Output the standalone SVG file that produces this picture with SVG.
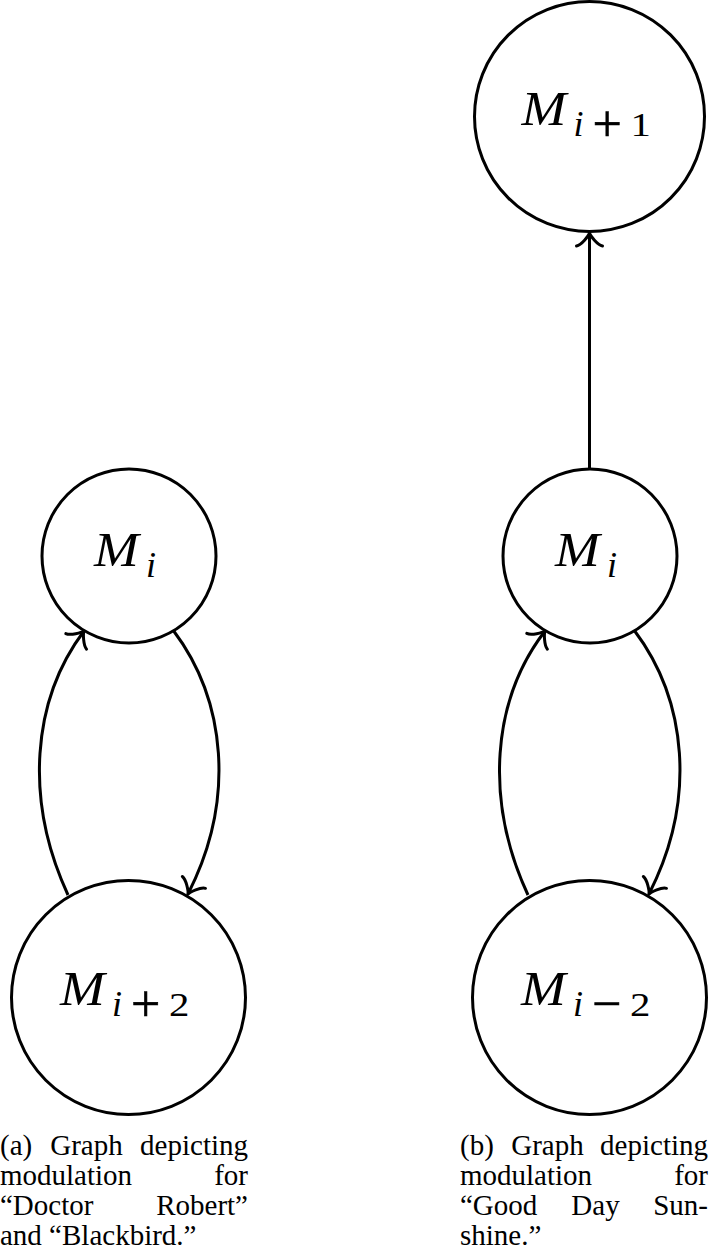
<svg xmlns="http://www.w3.org/2000/svg" width="709" height="1256" viewBox="0 0 709 1256">
<defs>
<style>
.node{fill:#fff;stroke:#000;stroke-width:3}
.edge{fill:none;stroke:#000;stroke-width:3}
.m{font-family:"Liberation Serif",serif;font-style:italic;font-size:48px;fill:#000}
.si{font-family:"Liberation Serif",serif;font-style:italic;font-size:36px;fill:#000}
.op{font-family:"Liberation Serif",serif;font-size:52px;fill:#000;stroke:#000;stroke-width:0.6}
.d{font-family:"Liberation Serif",serif;font-size:34px;fill:#000}
.cap{font-family:"Liberation Serif",serif;font-size:29px;fill:#000}
</style>
<marker id="to" markerUnits="userSpaceOnUse" viewBox="-16 -16 20 32" refX="0" refY="0" markerWidth="20" markerHeight="32" orient="auto" overflow="visible">
<path d="M -13,13 C -12,8 -2.8,0.9 0,0 C -2.8,-0.9 -12,-8 -13,-13" fill="none" stroke="#000" stroke-width="3" stroke-linecap="round"/>
</marker>
</defs>

<g id="connectors">
<path class="edge" d="M 68,895 C 24,800 32,700 84,631" marker-end="url(#to)"/>
<path class="edge" d="M 173,630 C 226,700 236,800 188,894" marker-end="url(#to)"/>
<path class="edge" d="M 528,895 C 484,800 492,700 545,631" marker-end="url(#to)"/>
<path class="edge" d="M 634,630 C 687,700 697,800 649,894" marker-end="url(#to)"/>
<path class="edge" d="M 589.5,469 L 589.5,233" marker-end="url(#to)"/>
</g>

<g id="a-Mi">
<circle class="node" cx="129" cy="556" r="87"/>
<text class="m" transform="translate(94,566) scale(1.12,1)">M</text>
<text x="146" y="577" class="si">i</text>
</g>
<g id="a-Mi2">
<circle class="node" cx="128.5" cy="997.5" r="117"/>
<text class="m" transform="translate(60,1005) scale(1.12,1)">M</text>
<text x="112" y="1016" class="si">i</text>
<text x="131" y="1020.5" class="op">+</text>
<text class="d" transform="translate(169,1016) scale(1.2,1)">2</text>
</g>
<g id="b-Mi1">
<circle class="node" cx="589.5" cy="116.5" r="115"/>
<text class="m" transform="translate(521.5,125) scale(1.12,1)">M</text>
<text x="573.5" y="136" class="si">i</text>
<text x="592.5" y="140.5" class="op">+</text>
<text class="d" transform="translate(630.5,136) scale(1.2,1)">1</text>
</g>
<g id="b-Mi">
<circle class="node" cx="590" cy="556" r="87"/>
<text class="m" transform="translate(555,566) scale(1.12,1)">M</text>
<text x="607" y="577" class="si">i</text>
</g>
<g id="b-Mim2">
<circle class="node" cx="589.5" cy="997.5" r="117"/>
<text class="m" transform="translate(521,1005) scale(1.12,1)">M</text>
<text x="573" y="1016" class="si">i</text>
<text x="592" y="1020.5" class="op">−</text>
<text class="d" transform="translate(630,1016) scale(1.2,1)">2</text>
</g>

<g id="caption-a" class="cap">
<text x="0" y="1155">(a)</text>
<text x="86.5" y="1155" text-anchor="middle">Graph</text>
<text x="248" y="1155" text-anchor="end">depicting</text>
<text x="0" y="1185">modulation</text>
<text x="248" y="1185" text-anchor="end">for</text>
<text x="0" y="1215">“Doctor</text>
<text x="248" y="1215" text-anchor="end">Robert”</text>
<text x="0" y="1245">and “Blackbird.”</text>
</g>
<g id="caption-b" class="cap">
<text x="460" y="1155">(b)</text>
<text x="547.5" y="1155" text-anchor="middle">Graph</text>
<text x="708" y="1155" text-anchor="end">depicting</text>
<text x="460" y="1185">modulation</text>
<text x="708" y="1185" text-anchor="end">for</text>
<text x="460" y="1215">“Good</text>
<text x="595.5" y="1215" text-anchor="middle">Day</text>
<text x="708" y="1215" text-anchor="end">Sun-</text>
<text x="460" y="1245">shine.”</text>
</g>
</svg>
